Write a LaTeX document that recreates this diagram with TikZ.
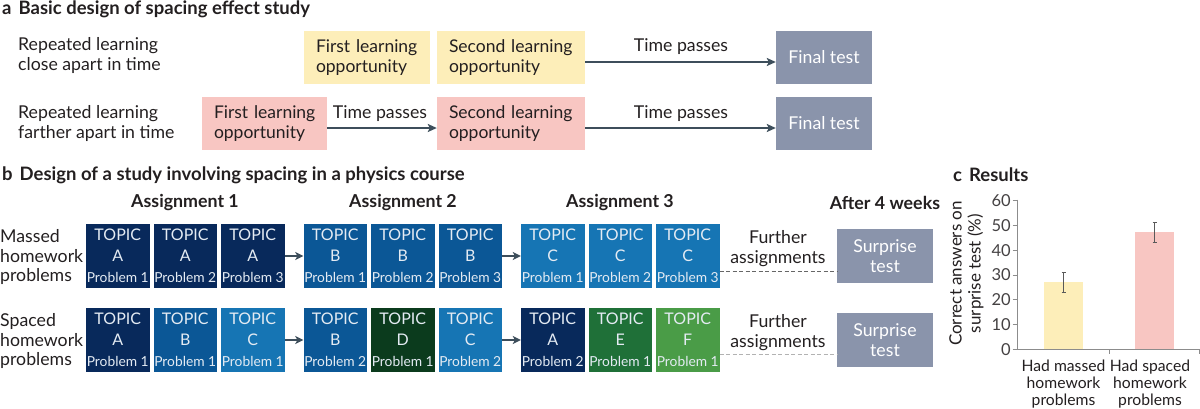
\documentclass[tikz,border=0pt]{standalone}
\usepackage{fontspec}
\setmainfont{Lato}
\usetikzlibrary{arrows.meta}
\definecolor{txt}{HTML}{231F20}
\definecolor{yel}{HTML}{FDEEB9}
\definecolor{pnk}{HTML}{F8C6C2}
\definecolor{gry}{HTML}{8A94AB}
\definecolor{arr}{HTML}{3D4E5B}
\definecolor{navy}{HTML}{08295B}
\definecolor{midb}{HTML}{0B5796}
\definecolor{ltb}{HTML}{1675B4}
\definecolor{dkg}{HTML}{0B3B1D}
\definecolor{grn}{HTML}{1F7038}
\definecolor{ltg}{HTML}{4A9C47}
\definecolor{boxtxt}{HTML}{E4EBF3}
\definecolor{axisc}{HTML}{8C8C8C}
\begin{document}
\begin{tikzpicture}[x=1pt,y=-1pt,
  every node/.style={text=txt},
  ttl/.style={font=\fontsize{18.5}{20}\selectfont\bfseries, anchor=west, inner sep=0},
  lbl/.style={font=\fontsize{17.7}{20}\selectfont, anchor=west, align=left, inner sep=0},
  abox/.style={inner xsep=12pt, inner ysep=0pt, minimum height=53pt, align=left, font=\fontsize{17.5}{20}\selectfont},
  fbox/.style={fill=gry, text=white, inner sep=0pt, minimum width=96pt, minimum height=54pt, align=center, font=\fontsize{17.7}{20}\selectfont},
  tbox/.style={minimum width=63.5pt, minimum height=64pt, inner sep=0pt, text=boxtxt, align=center, font=\fontsize{16}{21}\selectfont},
  arrw/.style={draw=arr, line width=2pt, -{Stealth[length=9pt,width=8pt,inset=2pt]}},
  sarrw/.style={draw=arr, line width=2pt, -{Stealth[length=8pt,width=8pt,inset=2pt]}},
  fa/.style={font=\fontsize{17.7}{20}\selectfont, align=center, inner sep=0},
  hd/.style={font=\fontsize{17.8}{20}\selectfont\bfseries, align=center, inner sep=0},
]
\useasboundingbox (0,0) rectangle (1200,408);

% ---------- a ----------
\node[ttl] (ta) at (2,9) {a\hspace{7pt}Basic design of spacing effect study};
\node[lbl] (la1) at (18,55) {Repeated learning\\close apart in time};
\node[lbl] (la2) at (18,123.5) {Repeated learning\\farther apart in time};

\node[abox, fill=yel, text width=102pt] (y1) at (367,57.5) {\mbox{First learning}\\\mbox{opportunity}};
\node[abox, fill=yel, text width=124pt] (y2) at (511,57.5) {\mbox{Second learning}\\\mbox{opportunity}};
\node[fbox, minimum height=53pt] (f1) at (824,57.5) {Final test};

\node[abox, fill=pnk, text width=101pt] (p1) at (264.5,123.5) {\mbox{First learning}\\\mbox{opportunity}};
\node[abox, fill=pnk, text width=124pt] (p2) at (511,123.5) {\mbox{Second learning}\\\mbox{opportunity}};
\node[fbox, minimum height=53pt] (f2) at (824,123.5) {Final test};

\draw[arrw] ([yshift=-4.5pt]y2.east) -- ([yshift=-4.5pt]f1.west);
\draw[arrw] ([yshift=-4.5pt]p1.east) -- ([yshift=-4.5pt]p2.west);
\draw[arrw] ([yshift=-4.5pt]p2.east) -- ([yshift=-4.5pt]f2.west);
\node[fa] (tp1) at (681,47) {Time passes};
\node[fa] (tp2) at (380,114) {Time passes};
\node[fa] (tp3) at (681,114) {Time passes};

% ---------- b ----------
\node[ttl] (tb) at (2,175) {b\hspace{7pt}Design of a study involving spacing in a physics course};
\node[hd] (as1) at (185,203) {Assignment 1};
\node[hd] (as2) at (403,203) {Assignment 2};
\node[hd] (as3) at (620,203) {Assignment 3};
\node[hd] (af4) at (885,203) {After 4 weeks};

\node[lbl, font=\fontsize{17.7}{19.5}\selectfont] (lm) at (0,257) {Massed\\homework\\problems};
\node[lbl, font=\fontsize{17.7}{19.5}\selectfont] (ls) at (0,341) {Spaced\\homework\\problems};

\newcommand\tp[5]{\node[tbox, fill=#4] (#1) at #2 {TOPIC\\#3\\{\fontsize{13.8}{15}\selectfont Problem #5}};}
% row 1
\tp{m1}{(117.75,256)}{A}{navy}{1}
\tp{m2}{(185.25,256)}{A}{navy}{2}
\tp{m3}{(252.75,256)}{A}{navy}{3}
\tp{m4}{(335.25,256)}{B}{midb}{1}
\tp{m5}{(402.75,256)}{B}{midb}{2}
\tp{m6}{(470.25,256)}{B}{midb}{3}
\tp{m7}{(552.75,256)}{C}{ltb}{1}
\tp{m8}{(620.25,256)}{C}{ltb}{2}
\tp{m9}{(687.75,256)}{C}{ltb}{3}
% row 2
\tp{s1}{(117.75,340)}{A}{navy}{1}
\tp{s2}{(185.25,340)}{B}{midb}{1}
\tp{s3}{(252.75,340)}{C}{ltb}{1}
\tp{s4}{(335.25,340)}{B}{midb}{2}
\tp{s5}{(402.75,340)}{D}{dkg}{1}
\tp{s6}{(470.25,340)}{C}{ltb}{2}
\tp{s7}{(552.75,340)}{A}{navy}{2}
\tp{s8}{(620.25,340)}{E}{grn}{1}
\tp{s9}{(687.75,340)}{F}{ltg}{1}

\draw[sarrw] (m3.east) -- (m4.west);
\draw[sarrw] (m6.east) -- (m7.west);
\draw[sarrw] (s3.east) -- (s4.west);
\draw[sarrw] (s6.east) -- (s7.west);

\node[fbox] (st1) at (885,256) {Surprise\\test};
\node[fbox] (st2) at (885,340) {Surprise\\test};
\node[fa] (fa1) at (778,248.5) {Further\\assignments};
\node[fa] (fa2) at (778,332.5) {Further\\assignments};
\draw[gray!80!black, line width=0.9pt, dash pattern=on 4pt off 2.5pt] ([yshift=-15pt]m9.east) -- ([yshift=-15pt]st1.west);
\draw[gray!60, line width=0.9pt, dash pattern=on 4pt off 2.5pt] ([yshift=-14pt]s9.east) -- ([yshift=-14pt]st2.west);

% ---------- c ----------
\node[ttl] (tc) at (953,175) {c\hspace{7pt}Results};
\fill[yel] (1044,349) rectangle (1083,282);
\fill[pnk] (1135,349) rectangle (1174,232.3);
\draw[axisc, line width=0.9pt] (1017,199.5) -- (1017,349.5) -- (1199.5,349.5);
\foreach \v in {0,10,...,60}{
  \draw[axisc, line width=0.9pt] (1012.5,{349.5-\v*2.483}) -- (1017,{349.5-\v*2.483});
  \node[anchor=east, inner sep=0, font=\fontsize{16.5}{18}\selectfont, text=txt!85] at (1011,{349.5-\v*2.483}) {\v};
}
\draw[axisc, line width=0.9pt] (1109,349.5) -- (1109,354);
\draw[axisc, line width=0.9pt] (1199.3,349.5) -- (1199.3,354);
\draw[gray!70!black, line width=0.8pt] (1063.5,291.9) -- (1063.5,272.1)
  (1061.5,291.9) -- (1065.5,291.9) (1061.5,272.1) -- (1065.5,272.1);
\draw[gray!70!black, line width=0.8pt] (1154.5,242.2) -- (1154.5,222.4)
  (1152.5,242.2) -- (1156.5,242.2) (1152.5,222.4) -- (1156.5,222.4);
\node[rotate=90, align=center, inner sep=0, font=\fontsize{17}{19}\selectfont] (yl) at (966.5,273.5) {Correct answers on\\surprise test (\%)};
\node[align=center, inner sep=0, font=\fontsize{15.7}{17}\selectfont] (xl1) at (1063.5,384) {Had massed\\homework\\problems};
\node[align=center, inner sep=0, font=\fontsize{15.7}{17}\selectfont] (xl2) at (1150,384) {Had spaced\\homework\\problems};
\end{tikzpicture}
\end{document}
